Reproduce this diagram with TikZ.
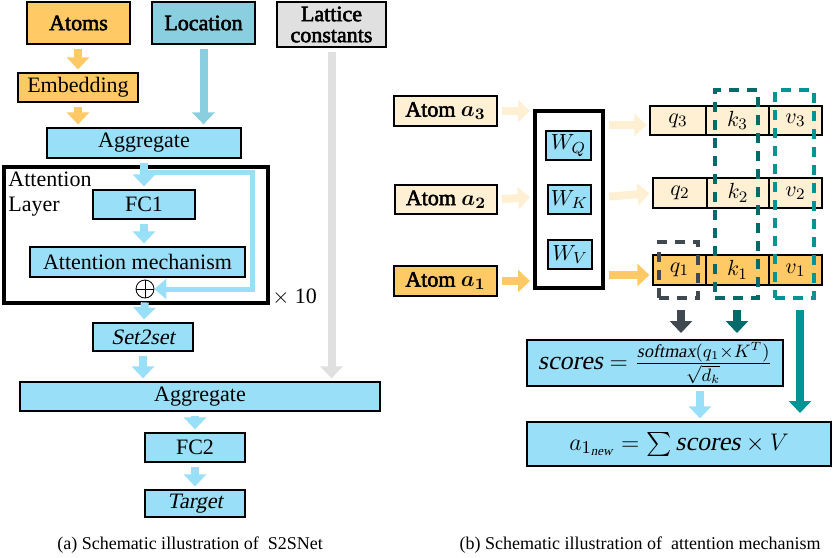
\documentclass[tikz,border=0pt]{standalone}
\usepackage{amsmath,bm}
\usepackage{fontspec}
\setmainfont{Liberation Serif}[BoldFont=Liberation Serif,BoldFeatures={FakeBold=2.5},ItalicFont=Liberation Serif,ItalicFeatures={FakeSlant=0.2},BoldItalicFont=Liberation Serif,BoldItalicFeatures={FakeBold=2.5,FakeSlant=0.2}]
\usetikzlibrary{arrows.meta}
\definecolor{org}{HTML}{FFC966}
\definecolor{lorg}{HTML}{FFF0D4}
\definecolor{loc}{HTML}{8ACFE0}
\definecolor{sky}{HTML}{99DFF8}
\definecolor{gry}{HTML}{E0E0E0}
\definecolor{tdark}{HTML}{006B6B}
\definecolor{teal2}{HTML}{009494}
\definecolor{slate}{HTML}{404850}
\begin{document}
\begin{tikzpicture}[x=0.5pt,y=-0.5pt,
  box/.style={draw,line width=0.6pt,inner sep=0,font=\fontsize{11}{12}\selectfont},
  arr/.style={line width=4pt,-{Triangle[length=6pt,width=11pt]},shorten <=2pt,shorten >=1.5pt}]
\useasboundingbox (0,0) rectangle (840,557);
\def\bx#1#2#3#4#5#6#7{\node[box,fill=#6,minimum width=(#3-#1)*0.5pt,minimum height=(#4-#2)*0.5pt] (#5) at ({(#1+#3)/2},{(#2+#4)/2}) {#7};}
% left
\bx{27}{2}{130}{44}{atoms}{org}{\textbf{Atoms}}
\bx{152}{2}{255}{44}{loc}{loc}{\textbf{Location}}
\node[box,fill=gry,minimum width=54.5pt,minimum height=22.5pt,align=center,font=\fontsize{11}{10.5}\selectfont] (lat) at (331.5,24.5) {\textbf{Lattice}\\\textbf{constants}};
\bx{18}{73}{138}{102}{emb}{org}{Embedding}
\bx{47}{128}{241}{158}{agg}{sky}{Aggregate}
\draw[line width=2pt] (4,167) rectangle (268,303);
\node[anchor=north west,align=left,inner sep=0,font=\fontsize{11}{12.5}\selectfont] (attl) at (8,172) {Attention\\Layer};
\bx{93}{190}{195}{219}{fc1}{sky}{FC1}
\bx{30}{247}{245}{277}{attm}{sky}{Attention mechanism}
\node[circle,draw,inner sep=0,minimum size=9pt] (plus) at (145,289) {};
\draw (plus.north)--(plus.south) (plus.west)--(plus.east);
\node[anchor=west,inner sep=0,font=\fontsize{11}{12}\selectfont] (x10) at (272,297) {$\times$ 10};
\bx{93}{323}{193}{351}{s2s}{sky}{\textit{Set2set}}
\bx{20}{382}{380}{411}{agg2}{sky}{Aggregate}
\bx{145}{433}{245}{462}{fc2}{sky}{FC2}
\bx{145}{490}{245}{517}{tgt}{sky}{\textit{Target}}
\draw[arr,org] (atoms.south -| emb) -- (emb);
\draw[arr,org] (emb.south) -- (emb.south |- agg.north);
\draw[arr,loc] (loc) -- (loc |- agg.north);
\draw[arr,sky] (agg.south -| fc1) -- (fc1);
\draw[arr,sky] (fc1) -- (fc1 |- attm.north);
\coordinate (lp) at (145,172);
\draw[sky,line width=2.5pt,-{Triangle[length=6pt,width=10pt]}] (lp) -- (252,172) -- (252,289) -- (plus.east);
\draw[arr,sky] (plus.south) -- (s2s);
\draw[arr,sky] (s2s) -- (s2s |- agg2.north);
\draw[arr,gry] (lat) -- (lat |- agg2.north);
\draw[arr,sky] (agg2.south -| fc2) -- (fc2);
\draw[arr,sky] (fc2) -- (tgt);
\node[font=\fontsize{9}{10}\selectfont] (capa) at (190,545) {(a) Schematic illustration of \ S2SNet};
% right
\bx{394}{96}{497}{126}{a3}{lorg}{\textbf{Atom} $\bm{a_3}$}
\bx{395}{185}{497}{214}{a2}{lorg}{\textbf{Atom} $\bm{a_2}$}
\bx{394}{266}{497}{296}{a1}{org}{\textbf{Atom} $\bm{a_1}$}
\draw[line width=2pt] (535,111) rectangle (603,288);
\coordinate (wl3) at (533,111); \coordinate (wl2) at (533,197); \coordinate (wl1) at (533,281);
\bx{546}{131}{591}{160}{wq}{sky}{$W_Q$}
\bx{548}{185}{591}{214}{wk}{sky}{$W_K$}
\bx{548}{240}{592}{269}{wv}{sky}{$W_V$}
\bx{650}{106}{706}{135}{q3}{lorg}{$q_3$}
\bx{706}{106}{769}{135}{k3}{lorg}{$k_3$}
\bx{769}{106}{822}{135}{v3}{lorg}{$v_3$}
\bx{653}{178}{707}{208}{q2}{lorg}{$q_2$}
\bx{707}{178}{769}{208}{k2}{lorg}{$k_2$}
\bx{769}{178}{822}{208}{v2}{lorg}{$v_2$}
\bx{653}{255}{706}{285}{q1}{org}{$q_1$}
\bx{706}{255}{769}{285}{k1}{org}{$k_1$}
\bx{769}{255}{822}{285}{v1}{org}{$v_1$}
\draw[arr,lorg] (a3.east) -- (wl3);
\draw[arr,lorg] (a2.east) -- (wl2);
\draw[arr,org] (a1.east) -- (wl1);
\draw[arr,lorg] (605,125) -- (q3.west |- 0,125);
\draw[arr,lorg] (605,197) -- (q2.west);
\draw[arr,org] (605,275) -- (q1.west |- 0,275);
\node[draw=tdark,line width=2pt,dash pattern=on 5pt off 4pt,minimum width=21.5pt,minimum height=104pt] (kd) at (736.5,194) {};
\node[draw=teal2,line width=2pt,dash pattern=on 5pt off 4pt,minimum width=19.5pt,minimum height=104pt] (vd) at (794.5,194) {};
\node[draw=slate,line width=2pt,dash pattern=on 5pt off 4pt,minimum width=19.5pt,minimum height=28pt] (qd) at (678.5,270) {};
\bx{527}{340}{783}{386}{sc}{sky}{\fontsize{13}{14}\selectfont$\mathit{scores}=\frac{\mathit{softmax}(q_1\times K^T)}{\sqrt{d_k}}$}
\bx{527}{422}{831}{466}{an}{sky}{\fontsize{13}{14}\selectfont$a_{1_{\mathit{new}}}=\sum \mathit{scores}\times V$}
\draw[arr,slate] (681,306) -- (681,336);
\draw[arr,tdark] (737,306) -- (737,336);
\draw[arr,teal2] (800,306) -- (800,416);
\draw[arr,sky] (sc.south -| 700,0) -- (an.north -| 700,0);
\node[font=\fontsize{9}{10}\selectfont] (capb) at (640,545) {(b) Schematic illustration of \ attention mechanism};
\end{tikzpicture}
\end{document}
